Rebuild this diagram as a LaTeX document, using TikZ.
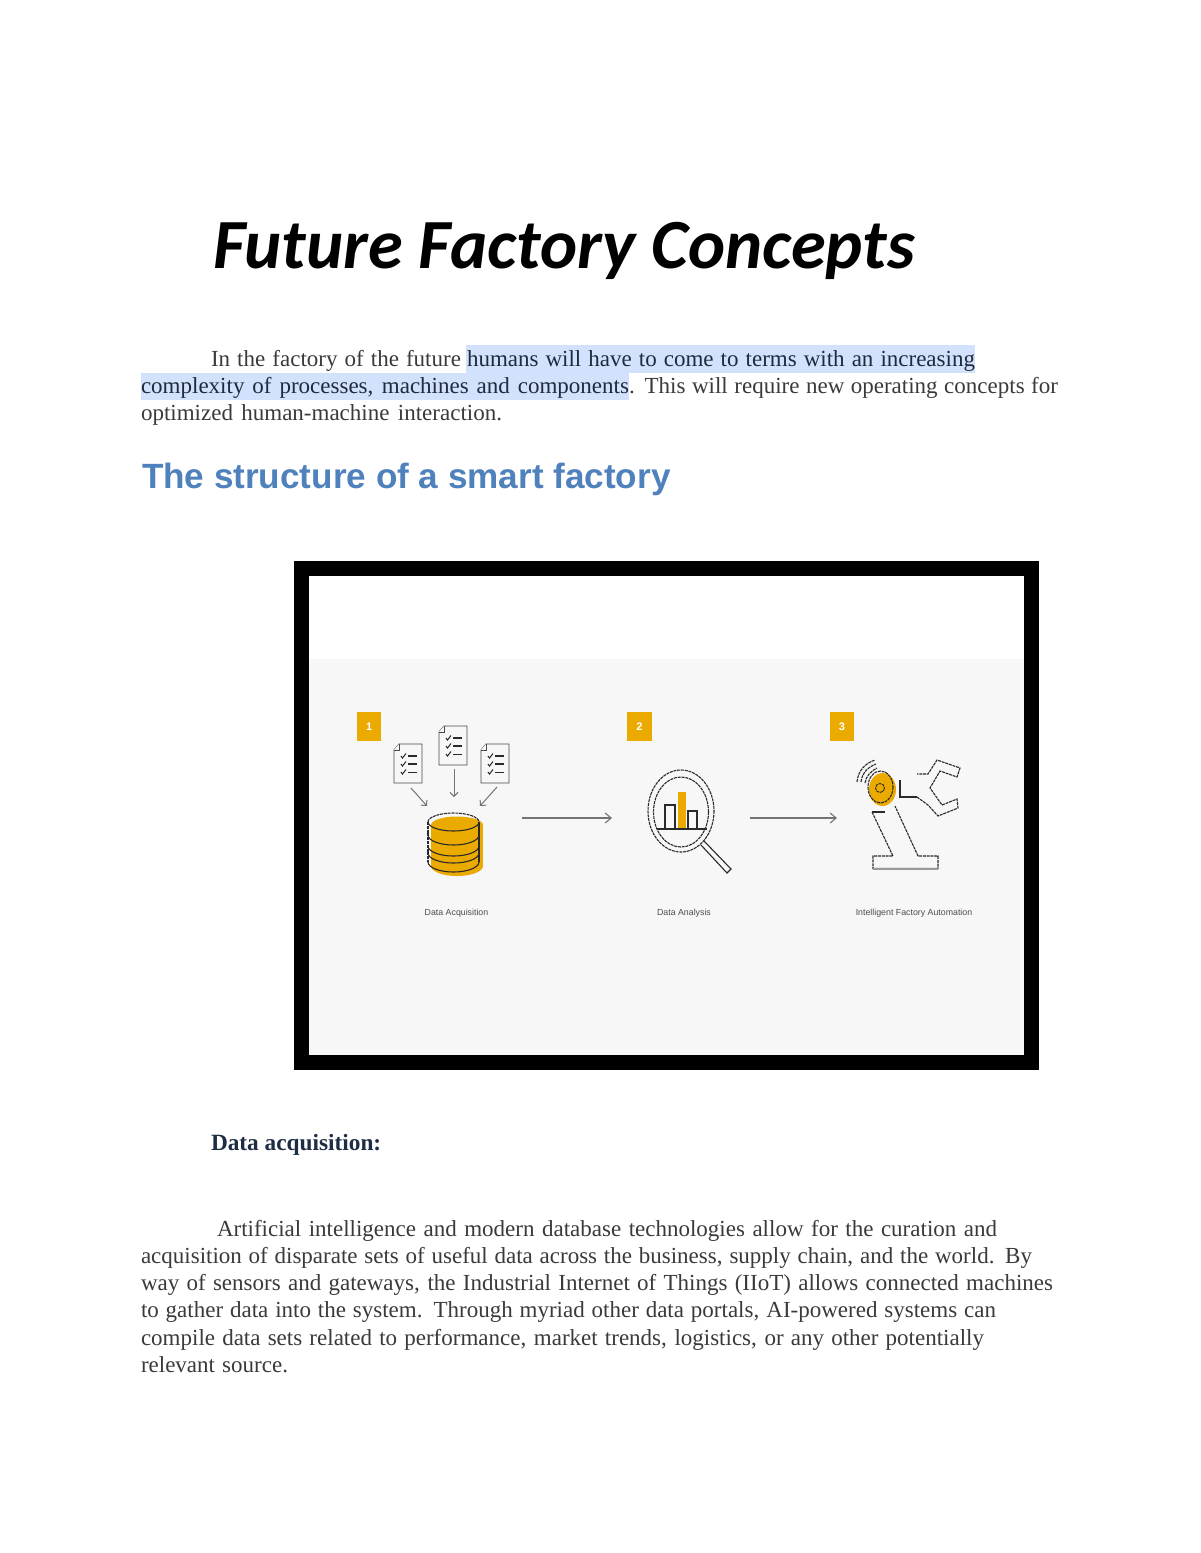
\documentclass[tikz,border=0pt]{standalone}
\usepackage{fontspec}
\usetikzlibrary{arrows.meta}
\setmainfont{Liberation Serif}
\newfontfamily\titlefont{Carlito}
\newfontfamily\headfont{Liberation Sans}
\definecolor{bodyc}{HTML}{3A3A3A}
\definecolor{hlc}{HTML}{D2E2FC}
\definecolor{hltext}{HTML}{1F2A3C}
\definecolor{headc}{HTML}{4F81BD}
\definecolor{navyc}{HTML}{1F2D44}
\definecolor{panelc}{HTML}{F7F7F7}
\definecolor{amberc}{HTML}{EBAA00}
\definecolor{inkc}{HTML}{2A2A2A}
\newcommand{\bodysize}{\fontsize{23}{27}\selectfont}
\newcommand{\fline}[6]{\node[txt,text=#5] (#1) at (#2,#3) {\bodysize\makebox[#4pt][s]{#6}};}
\newcommand{\docicon}[3]{%
  \draw[doc] (#2+5,#3) -- (#2+28,#3) -- (#2+28,#3+39) -- (#2,#3+39) -- (#2,#3+6) -- cycle;
  \draw[doc,line width=.6pt] (#2+5,#3) -- (#2+5,#3+6) -- (#2,#3+6);
  \foreach \k/\w in {0/1.3,1/1.3,2/.7}{
    \draw[tick] (#2+7,#3+12+\k*8) -- (#2+8.5,#3+14+\k*8) -- (#2+12,#3+9.5+\k*8);
    \draw[tick,line width=\w pt] (#2+14,#3+12+\k*8) -- (#2+23,#3+12+\k*8);
  }
  \node[inner sep=0,minimum size=0pt] (#1) at (#2+14,#3+20) {};
}
\tikzset{
  txt/.style={anchor=base west,inner sep=0pt,outer sep=0pt},
  doc/.style={draw=inkc!85,line width=.9pt,fill=panelc},
  tick/.style={draw=inkc,line width=1pt},
  ink/.style={draw=inkc,line width=1.1pt},
  inkdash/.style={draw=inkc,line width=1.1pt,dash pattern=on 3pt off .8pt},
  flow/.style={draw=black!55,line width=1.1pt,-{Straight Barb[length=6pt,width=10pt]}},
  feed/.style={draw=black!55,line width=1pt,-{Straight Barb[length=4pt,width=8pt]}},
  badge/.style={fill=amberc,text=white,font=\headfont\bfseries\fontsize{11}{11}\selectfont,minimum width=24.5pt,minimum height=29pt,inner sep=0pt},
  caption/.style={text=black!70,font=\headfont\fontsize{8.8}{11}\selectfont,inner sep=0pt},
}
\begin{document}
\begin{tikzpicture}[x=1pt,y=-1pt]
\useasboundingbox (0,0) rectangle (1200,1553);
\fill[white] (0,0) rectangle (1200,1553);
% highlights
\fill[hlc] (466,345) rectangle (975,372.5);
\fill[hlc] (141,372.5) rectangle (629,399.5);
% title and text
\node[txt,text=black] (title) at (213,268) {\titlefont\bfseries\itshape\fontsize{70.5}{74}\selectfont Future Factory Concepts};
\fline{l1a}{211}{366.5}{250}{bodyc}{In the factory of the future}
\fline{l1b}{467}{366.5}{508}{hltext}{humans will have to come to terms with an increasing}
\fline{l2a}{141}{393.5}{488}{hltext}{complexity of processes, machines and components}
\fline{l2b}{629}{393.5}{429}{bodyc}{. This will require new operating concepts for}
\fline{l3}{141}{420.5}{361}{bodyc}{optimized human-machine interaction.}
\node[txt,text=headc] (head) at (142,488) {\headfont\bfseries\fontsize{35.1}{40}\selectfont The structure of a smart factory};
\node[txt,text=navyc] (acq) at (211,1150) {\bfseries\fontsize{23.3}{27}\selectfont Data acquisition:};
\fline{p1}{217}{1236.3}{780}{bodyc}{Artificial intelligence and modern database technologies allow for the curation and}
\fline{p2}{141}{1263.3}{891}{bodyc}{acquisition of disparate sets of useful data across the business, supply chain, and the world. By}
\fline{p3}{141}{1290.3}{912}{bodyc}{way of sensors and gateways, the Industrial Internet of Things (IIoT) allows connected machines}
\fline{p4}{141}{1317.3}{855}{bodyc}{to gather data into the system. Through myriad other data portals, AI-powered systems can}
\fline{p5}{141}{1345}{843}{bodyc}{compile data sets related to performance, market trends, logistics, or any other potentially}
\fline{p6}{141}{1372}{147}{bodyc}{relevant source.}
% framed picture
\fill[black] (294,561) rectangle (1039,1070);
\fill[white] (309,576) rectangle (1024,659);
\fill[panelc] (309,659) rectangle (1024,1055);
% badges
\node[badge] (b1) at (369.2,726.5) {1};
\node[badge] (b2) at (639.5,726.5) {2};
\node[badge] (b3) at (842,726.5) {3};
% documents
\docicon{d1}{394}{744}
\docicon{d2}{439}{726}
\docicon{d3}{481}{744}
% database
\fill[amberc] (431,825) rectangle (483,866);
\fill[amberc] (457,825) ellipse[x radius=26,y radius=8.5];
\fill[amberc] (457,866) ellipse[x radius=26,y radius=10];
\draw[inkdash] (428,822) arc[start angle=180,end angle=360,x radius=25.5,y radius=9];
\draw[ink] (428,822) arc[start angle=180,end angle=0,x radius=25.5,y radius=9];
\foreach \yy in {835,846,853,862}{\draw[ink] (428,\yy) arc[start angle=180,end angle=0,x radius=25.5,y radius=10];}
\draw[inkdash] (428,822) -- (428,862);
\draw[ink] (479,822) -- (479,862);
\coordinate (dbL) at (427,806); \coordinate (dbM) at (454,797); \coordinate (dbR) at (480,806);
\coordinate (dbE) at (522,818);
\coordinate (d1s) at (411,788); \coordinate (d2s) at (454,769); \coordinate (d3s) at (497,787);
\draw[feed] (d1s) -- (dbL);
\draw[feed] (d2s) -- (dbM);
\draw[feed] (d3s) -- (dbR);
\coordinate (magW) at (612,818); \coordinate (magE) at (750,818); \coordinate (robW) at (837,818);
\draw[flow] (dbE) -- (magW);
\draw[flow] (magE) -- (robW);
% magnifier
\draw[inkdash] (681,811) ellipse[x radius=33,y radius=41];
\draw[inkdash] (681,812) ellipse[x radius=27.5,y radius=35];
\draw[ink] (704,841) -- (731,869) -- (727,873) -- (701,845);
\draw[ink] (665,829) -- (665,805) -- (675,805) -- (675,829);
\fill[amberc] (677.5,792) rectangle (686,829);
\draw[ink] (688,829) -- (688,811) -- (697,811) -- (697,829);
\draw[ink] (657,829) -- (707,829);
% robot
\fill[amberc] (882.5,789.5) ellipse[x radius=13.5,y radius=16.5];
\draw[inkdash] (880.5,787) ellipse[x radius=12.5,y radius=16];
\draw[inkdash,line width=.9pt] (880,788) circle[radius=4.5];
\draw[inkdash] (857,782) .. controls (858,770) and (866,763) .. (875,760);
\draw[inkdash] (861,782) .. controls (862,773) and (868,767) .. (876,764);
\draw[inkdash] (865,783) .. controls (866,776) and (871,771) .. (877,768);
\draw[inkdash] (872,812) -- (893,856) -- (873,856) -- (873,868.5) -- (938,868.5) -- (938,856) -- (918,856) -- (895,806);
\draw[ink] (872,812) -- (885,812);
\draw[draw=black!40,line width=1.4pt] (873,869) -- (938,869);
\draw[ink] (900,780) -- (900,797) -- (917,797);
\draw[inkdash] (917,797) -- (928,805) -- (938,816) -- (958,808) -- (957,799) -- (942,805) -- (930,788) -- (940,771) -- (957,777) -- (960,768) -- (937,760) -- (928,774) -- (917,774);
% captions
\node[caption] (c1) at (456.5,913) {Data Acquisition};
\node[caption] (c2) at (684,913) {Data Analysis};
\node[caption] (c3) at (914,913) {Intelligent Factory Automation};
\end{tikzpicture}
\end{document}
